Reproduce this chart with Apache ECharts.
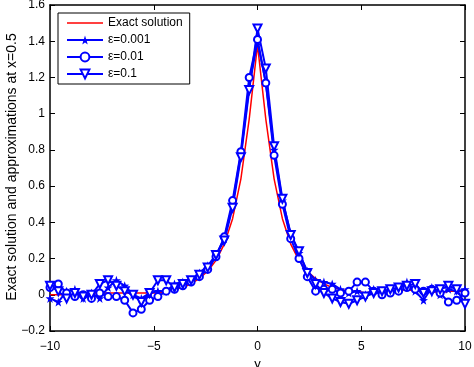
<!DOCTYPE html>
<html><head><meta charset="utf-8">
<script src="https://cdn.jsdelivr.net/npm/echarts@6/dist/echarts.min.js"></script>
<style>html,body{margin:0;padding:0;background:#fff}#c{width:474px;height:367px}</style>
</head><body><div id="c"></div>
<script>
// x positions (y variable) of samples
const xs = [-10,-9.6,-9.2,-8.8,-8.4,-8.0,-7.6,-7.2,-6.8,-6.4,-6.0,-5.6,-5.2,-4.8,-4.4,-4.0,-3.6,-3.2,-2.8,-2.4,-2.0,-1.6,-1.2,-0.8,-0.4,
  0,0.4,0.8,1.2,1.6,2.0,2.4,2.8,3.2,3.6,4.0,4.4,4.8,5.2,5.6,6.0,6.4,6.8,7.2,7.6,8.0,8.4,8.8,9.2,9.6,10];
const exact = [0.00,0.00,0.00,0.00,0.00,0.01,0.01,0.01,0.01,0.01,0.01,0.01,0.01,0.01,0.02,0.03,0.04,0.06,0.09,0.13,0.19,0.28,0.42,0.64,0.97,
  1.38,0.97,0.64,0.42,0.28,0.19,0.13,0.09,0.06,0.04,0.03,0.02,0.02,0.01,0.02,0.01,0.02,0.02,0.03,0.02,0.02,0.02,0.01,0.02,0.02,0.02];
const eps001 = [-0.02,-0.04,0.02,0.03,-0.02,0.01,-0.02,0.04,0.08,0.05,0.00,-0.02,0.01,0.02,0.02,0.06,0.07,0.08,0.12,0.16,0.22,0.31,0.50,0.78,1.15,
  1.40,1.17,0.80,0.52,0.34,0.23,0.13,0.08,0.07,0.06,0.03,0.01,0.02,0.00,0.03,0.01,0.02,0.03,0.07,0.02,-0.03,0.04,0.00,0.03,0.02,0.03];
const eps01 = [0.04,0.06,0.01,-0.01,0.00,-0.02,0.01,-0.01,-0.01,-0.03,-0.10,-0.08,-0.03,-0.01,0.02,0.03,0.05,0.07,0.10,0.14,0.21,0.32,0.52,0.79,1.20,
  1.41,1.17,0.77,0.50,0.31,0.20,0.10,0.02,0.03,0.03,0.01,0.02,0.07,0.07,0.02,0.00,0.01,0.02,0.04,0.03,0.02,0.03,0.01,-0.04,-0.03,0.01];
const eps1 = [0.05,0.02,-0.02,0.01,-0.01,0.00,0.06,0.08,0.05,0.02,0.00,-0.04,0.01,0.08,0.08,0.04,0.06,0.08,0.11,0.15,0.22,0.30,0.48,0.76,1.13,
  1.47,1.25,0.82,0.53,0.33,0.24,0.12,0.06,0.01,-0.02,-0.04,-0.05,-0.03,-0.01,0.01,0.02,0.03,0.04,0.05,0.06,0.01,0.02,0.03,0.05,0.03,-0.05];
const names = ['Exact solution','ε=0.001','ε=0.01','ε=0.1'];

const pair = arr => xs.map((x,i)=>[x,arr[i]]);
const star = 'path://M0,-10 L2.35,-3.24 L9.51,-3.09 L3.8,1.24 L5.88,8.09 L0,4 L-5.88,8.09 L-3.8,1.24 L-9.51,-3.09 L-2.35,-3.24 Z';
const font = 'Liberation Sans, Arial, sans-serif';
const blue = '#0000ff';
const fmt = v => { const r = Math.round(v*10)/10; return (r < 0 ? '\u2212' : '') + String(Math.abs(r)); };
const chart = echarts.init(document.getElementById('c'), null, {renderer:'canvas'});
const axCommon = {
  axisLine:{show:true, onZero:false, lineStyle:{color:'#000', width:1.5}},
  axisTick:{show:true, inside:true, length:5, lineStyle:{color:'#000', width:1}},
  splitLine:{show:false}
};
chart.setOption({
  animation:false,
  backgroundColor:'#fff',
  grid:{left:50, right:9, top:5, bottom:36, containLabel:false, outerBoundsMode:'none'},
  legend:{
    left:58, top:13, orient:'vertical',
    backgroundColor:'#fff', borderColor:'#000', borderWidth:1,
    padding:[4,7,4,8], itemGap:5, itemWidth:36, itemHeight:11,
    textStyle:{fontFamily:font, fontSize:12, color:'#000'},
    data:[{name:names[0], icon:'path://M0,0 L36,0 L36,1.5 L0,1.5 Z'}, names[1], names[2], names[3]]
  },
  xAxis:[
    Object.assign({type:'value', min:-10, max:10, interval:5, position:'bottom',
      name:'y', nameLocation:'middle', nameGap:27, nameMoveOverlap:false,
      nameTextStyle:{fontFamily:font, fontSize:13, color:'#000'},
      axisLabel:{fontFamily:font, fontSize:12, color:'#000', margin:10, formatter:fmt}}, axCommon),
    Object.assign({type:'value', min:-10, max:10, interval:5, position:'top',
      axisLabel:{show:false}}, axCommon)
  ],
  yAxis:[
    Object.assign({type:'value', min:-0.2, max:1.6, interval:0.2, position:'left',
      name:'Exact solution and approximations at x=0.5', nameLocation:'middle', nameGap:31, nameMoveOverlap:false,
      nameTextStyle:{fontFamily:font, fontSize:14, color:'#000', padding:[0,0,0,2]},
      axisLabel:{fontFamily:font, fontSize:12, color:'#000', margin:5, formatter:fmt}}, axCommon),
    Object.assign({type:'value', min:-0.2, max:1.6, interval:0.2, position:'right',
      axisLabel:{show:false}}, axCommon)
  ],
  series:[
    {name:names[0], type:'line', data:pair(exact), symbol:'none', color:'#ff0000',
      lineStyle:{color:'#ff0000', width:1.5}, z:2},
    {name:names[1], type:'line', data:pair(eps001), symbol:star, symbolSize:9, color:blue,
      itemStyle:{color:blue}, lineStyle:{color:blue, width:2}, z:3},
    {name:names[2], type:'line', data:pair(eps01), symbol:'emptyCircle', symbolSize:7, color:blue,
      itemStyle:{color:blue, borderWidth:1.5}, lineStyle:{color:blue, width:2}, z:3},
    {name:names[3], type:'line', data:pair(eps1), symbol:'emptyTriangle', symbolRotate:180, symbolSize:8, color:blue,
      itemStyle:{color:blue, borderWidth:1.5}, lineStyle:{color:blue, width:2}, z:3}
  ]
});
</script></body></html>
